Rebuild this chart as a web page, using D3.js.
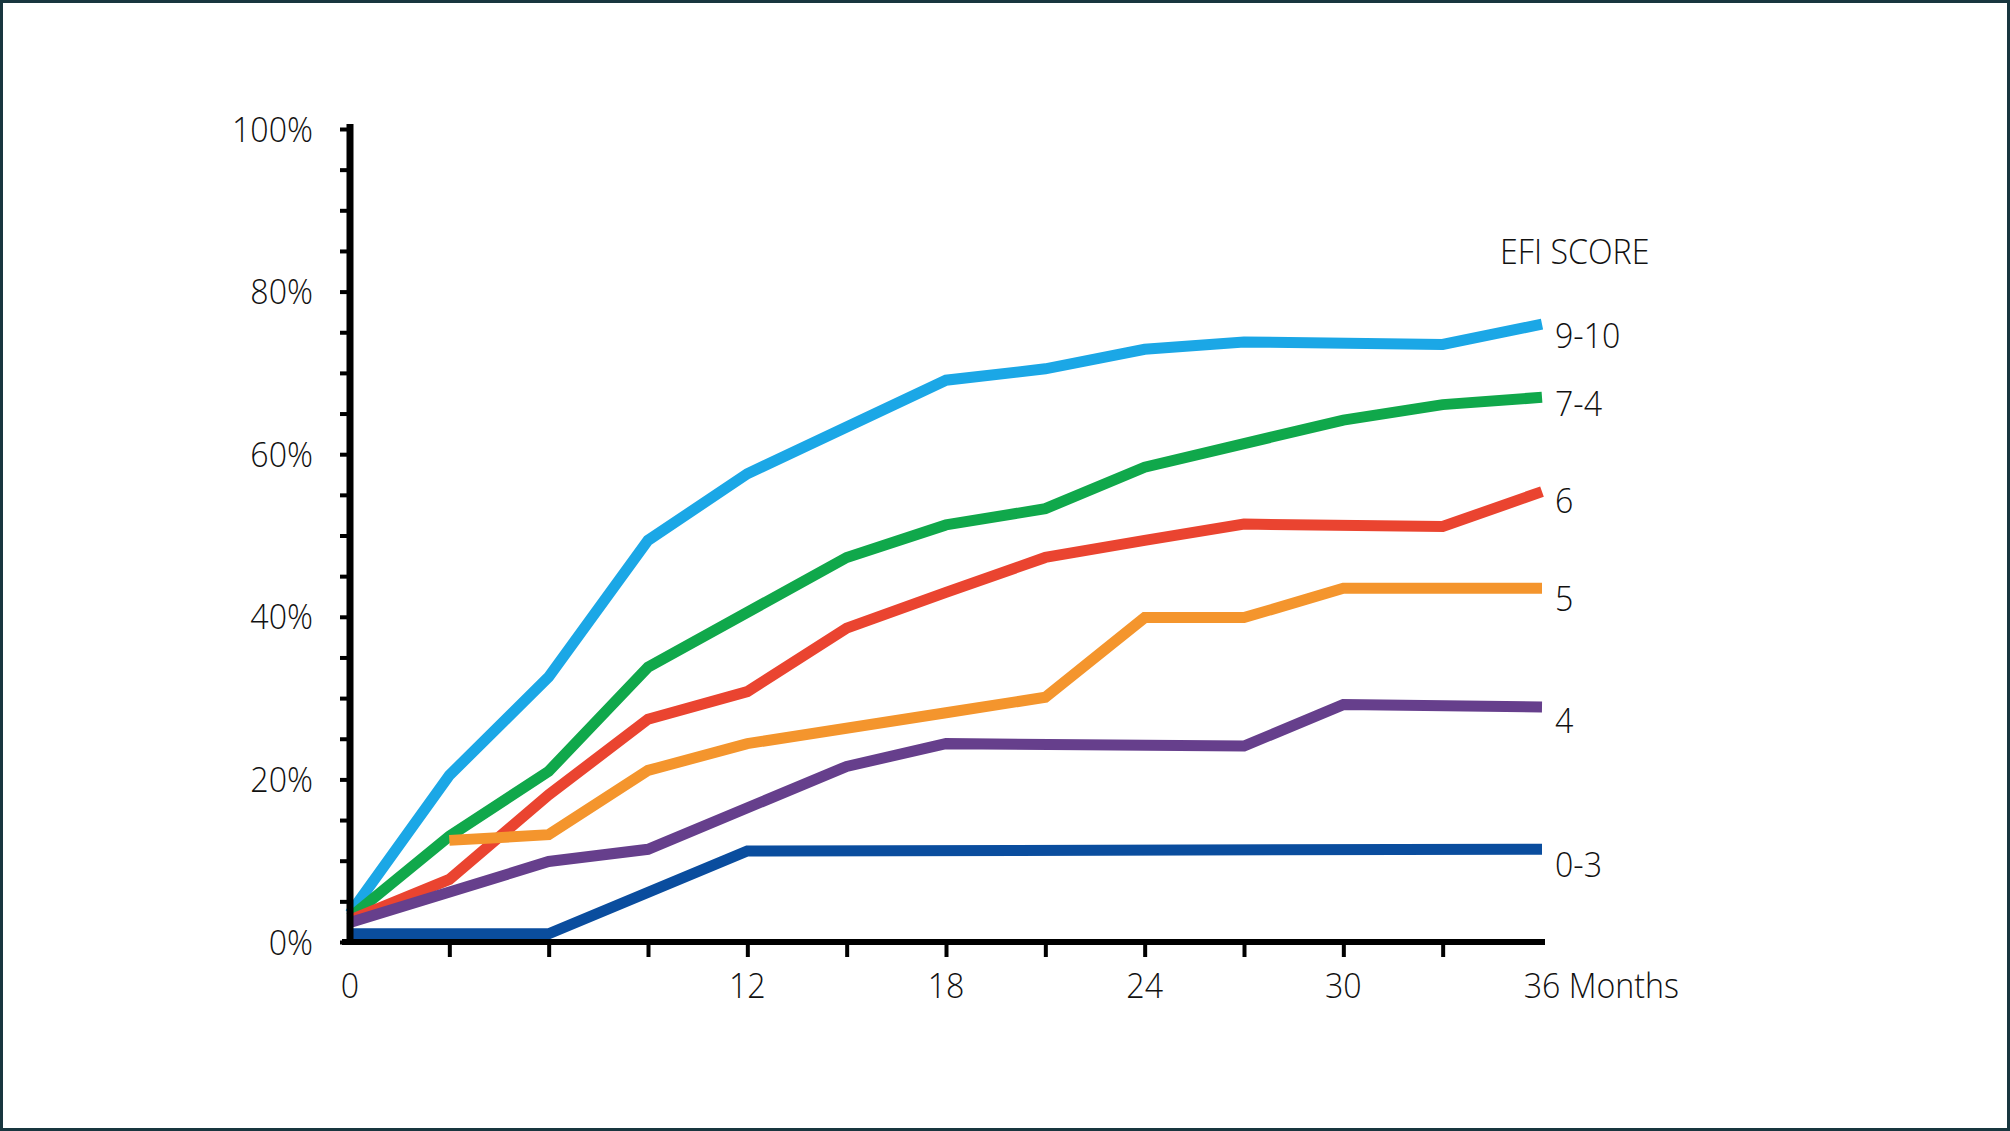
<!DOCTYPE html>
<html>
<head>
<meta charset="utf-8">
<script src="https://cdn.jsdelivr.net/npm/d3@7"></script>
<style>
body { margin:0; background:#fff; }
text { font-family:"Open Sans","DejaVu Sans Condensed",sans-serif; font-weight:300; font-size:35px; fill:#111; }
</style>
</head>
<body>
<div id="chart"></div>
<script>
// chart data (months, % of patients)
var groups = ["9-10", "7-4", "6", "5", "4", "0-3"];
var colors = ["#1ba7e6", "#10a84b", "#ea4430", "#f4952d", "#663f8c", "#0a4d9e"];

var s910 = [[0,3.5],[3,20.5],[6,32.6],[9,49.4],[12,57.6],[18,69.1],[21,70.5],[24,72.9],[27,73.8],[33,73.5],[36,76]];
var s74  = [[0,3],[3,13],[6,21],[9,33.8],[15,47.3],[18,51.3],[21,53.3],[24,58.4],[30,64.2],[33,66.1],[36,67]];
var s6   = [[0,2.7],[3,7.7],[6,18.1],[9,27.4],[12,30.8],[15,38.6],[18,43],[21,47.3],[24,49.4],[27,51.4],[33,51.1],[36,55.4]];
var s5   = [[3,12.5],[6,13.2],[9,21.1],[12,24.4],[18,28.2],[21,30.1],[24,39.9],[27,39.9],[30,43.5],[36,43.5]];
var s4   = [[0,2.4],[6,9.9],[9,11.4],[15,21.6],[18,24.4],[27,24.1],[30,29.2],[36,28.9]];
var s03  = [[0,1],[6,1],[12,11.2],[36,11.4]];
var series = [s910, s74, s6, s5, s4, s03];

// where each group label sits (in % units)
var labelPos = [74.6, 66.2, 54.3, 42.3, 27.3, 9.5];

var yTicks = [0, 20, 40, 60, 80, 100];
var xTickLabels = [0, 12, 18, 24, 30, 36];

var w = 2010, h = 1131;
var squeeze = 0.92; // text is a bit narrower than Open Sans

var svg = d3.select("#chart").append("svg")
  .attr("width", w).attr("height", h);

// put a text at (px,py) and squeeze it horizontally
function place(sel, px, py) {
  sel.attr("transform", function(d, i){
    return "translate(" + px(d, i) + "," + py(d, i) + ") scale(" + squeeze + ",1)";
  });
}

// frame
svg.append("rect")
  .attr("x", 1.5).attr("y", 1.5)
  .attr("width", w - 3).attr("height", h - 3)
  .attr("fill", "#fff").attr("stroke", "#18363f").attr("stroke-width", 3);

var x = d3.scaleLinear().domain([0, 36]).range([350, 1542]);
var y = d3.scaleLinear().domain([0, 100]).range([942, 129]);

// lines
var line = d3.line()
  .x(function(d){ return x(d[0]); })
  .y(function(d){ return y(d[1]); });

svg.selectAll(".series")
  .data(series)
  .enter().append("path")
  .attr("class", "series")
  .attr("d", line)
  .attr("fill", "none")
  .attr("stroke", function(d, i){ return colors[i]; })
  .attr("stroke-width", 11)
  .attr("stroke-linejoin", "miter")
  .attr("stroke-linecap", "butt");

// y axis
var yAxis = d3.axisLeft(y)
  .tickValues(d3.range(0, 101, 5))
  .tickSize(10)
  .tickFormat("");
var gy = svg.append("g").attr("transform", "translate(" + x(0) + ",0)").call(yAxis);
gy.select(".domain").remove();
gy.selectAll(".tick line").attr("stroke", "#000").attr("stroke-width", 4);
svg.append("line")
  .attr("x1", x(0)).attr("x2", x(0))
  .attr("y1", y(100) - 5).attr("y2", y(0) + 3)
  .attr("stroke", "#000").attr("stroke-width", 7);

svg.selectAll(".ylab")
  .data(yTicks)
  .enter().append("text")
  .attr("class", "ylab")
  .attr("dy", "0.36em")
  .attr("text-anchor", "end")
  .text(function(d){ return d + "%"; })
  .call(place, function(){ return 313; }, function(d){ return y(d); });

// x axis
var xAxis = d3.axisBottom(x)
  .tickValues(d3.range(3, 34, 3))
  .tickSize(15)
  .tickFormat("");
var gx = svg.append("g").attr("transform", "translate(0," + y(0) + ")").call(xAxis);
gx.select(".domain").remove();
gx.selectAll(".tick line").attr("stroke", "#000").attr("stroke-width", 4);
svg.append("line")
  .attr("x1", x(0) - 8).attr("x2", x(36) + 3)
  .attr("y1", y(0)).attr("y2", y(0))
  .attr("stroke", "#000").attr("stroke-width", 6);

var xl = svg.selectAll(".xlab")
  .data(xTickLabels)
  .enter().append("text")
  .attr("class", "xlab")
  .attr("text-anchor", "middle")
  .text(function(d){ return d; })
  .call(place, function(d){ return x(d); }, function(){ return 998; });

// "Months" follows the last tick label
var last = xl.filter(function(d){ return d === 36; }).node().getBBox();
svg.append("text")
  .text("Months")
  .call(place, function(){ return x(36) + (last.width / 2 + 9) * squeeze; }, function(){ return 998; });

// group labels
svg.append("text")
  .attr("dy", "0.36em")
  .text("EFI SCORE")
  .call(place, function(){ return 1500; }, function(){ return y(85); });

svg.selectAll(".glab")
  .data(groups)
  .enter().append("text")
  .attr("class", "glab")
  .attr("dy", "0.36em")
  .text(function(d){ return d; })
  .call(place, function(){ return x(36) + 13; }, function(d, i){ return y(labelPos[i]); });
</script>
</body>
</html>
